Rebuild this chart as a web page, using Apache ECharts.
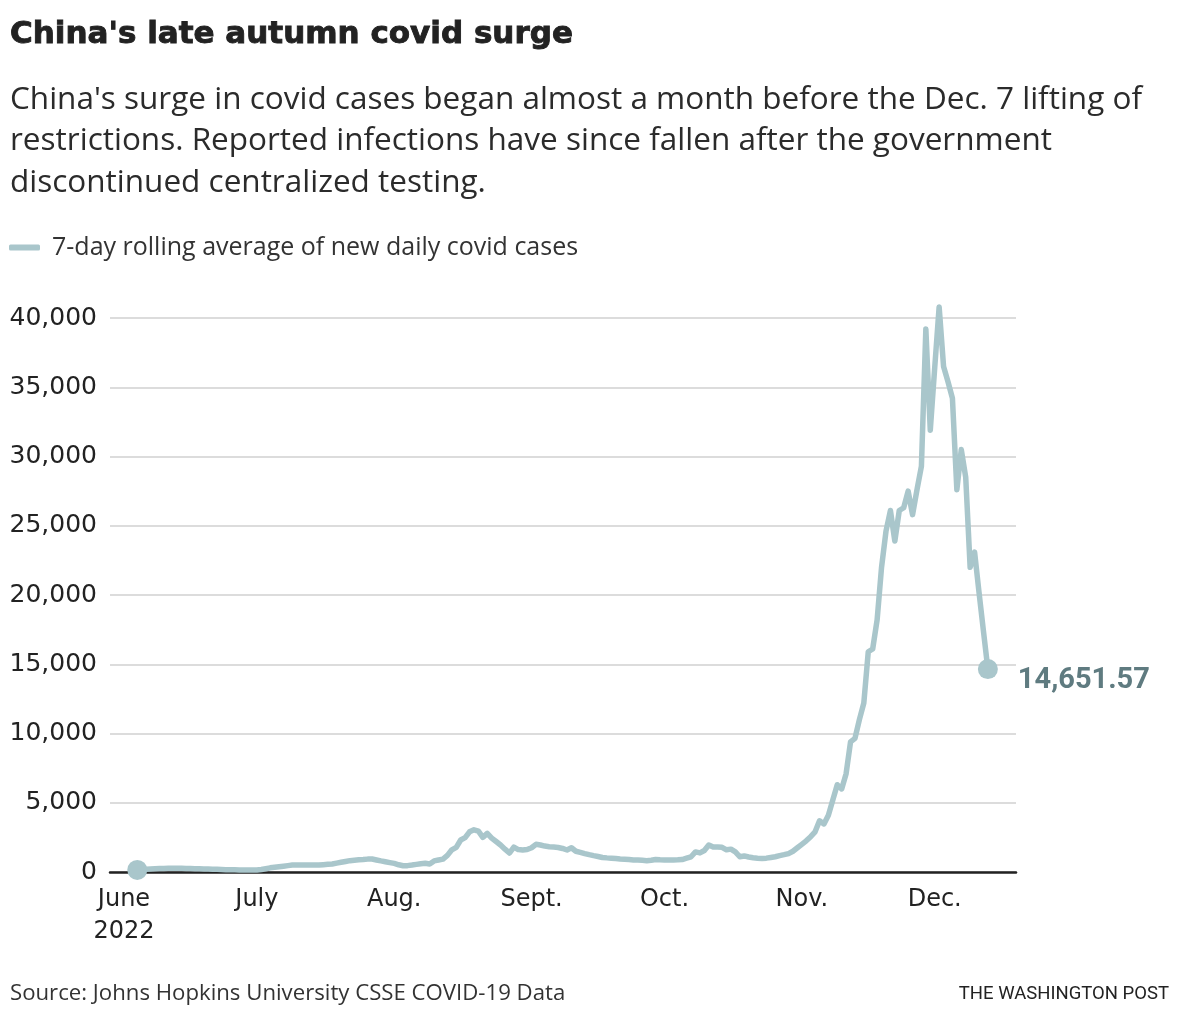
<!DOCTYPE html>
<html><head><meta charset="utf-8">
<script src="https://cdn.jsdelivr.net/npm/echarts@6/dist/echarts.min.js"></script>
<style>html,body{margin:0;padding:0;background:#fff}#c{width:1180px;height:1020px}</style>
</head><body><div id="c"></div>
<script>
const titleText = "China's late autumn covid surge";
const subtitleLines = [
  "China's surge in covid cases began almost a month before the Dec. 7 lifting of",
  "restrictions. Reported infections have since fallen after the government",
  "discontinued centralized testing."
];
const seriesName = '7-day rolling average of new daily covid cases';
const sourceText = 'Source: Johns Hopkins University CSSE COVID-19 Data';
const creditText = 'THE WASHINGTON POST';

const originDate = '2022-06-01';
const startDate = '2022-06-04';
const juneValues = [150,190,200,220,240,250,260,270,270,270,265,260,250,240,230,220,210,200,190,180,170,160,155,150,145,140,140];
const julyValues = [140,180,240,300,340,380,420,460,500,500,500,500,500,500,500,530,560,580,640,700,760,820,850,880,900,930,940,870,800,740,680];
const augValues = [620,520,450,460,500,550,600,630,580,800,870,930,1200,1600,1780,2310,2480,2900,3050,2950,2500,2790,2450,2200,1950,1650,1370,1800,1620,1590,1620];
const septValues = [1750,2000,1950,1870,1830,1800,1770,1700,1590,1750,1500,1420,1330,1250,1180,1120,1050,1020,1000,970,940,920,900,870,860,840,820,850,900,880];
const octValues = [870,870,870,880,900,1000,1100,1450,1380,1550,1950,1800,1800,1780,1600,1650,1450,1100,1160,1080,1030,1000,980,1000,1050,1100,1180,1250,1330,1500,1750];
const novValues = [2000,2250,2550,2900,3700,3470,4100,5200,6300,6000,7100,9400,9650,11000,12200,15900,16100,18200,22000,24600,26100,23900,26100,26300,27500,25800,27600,29300,39200,31900];
const decValues = [36400,40800,36500,35400,34200,27600,30500,28500,22000,23100,20200,17400,14651.57];

const tickDates = ['2022-06-01','2022-07-01','2022-08-01','2022-09-01','2022-10-01','2022-11-01','2022-12-01'];
const tickLabels = ['June\n2022','July','Aug.','Sept.','Oct.','Nov.','Dec.'];

function dayIndex(s){const p=s.split('-').map(Number);const o=originDate.split('-').map(Number);
  return Math.round((Date.UTC(p[0],p[1]-1,p[2])-Date.UTC(o[0],o[1]-1,o[2]))/86400000);}
const values = [].concat(juneValues,julyValues,augValues,septValues,octValues,novValues,decValues);
const start = dayIndex(startDate);
const lineData = values.map((v,k)=>[start+k, v]);
const tickPos = tickDates.map(dayIndex);
const last = lineData.length-1;
const fmt = v => v.toLocaleString('en-US');
const OS = '"Open Sans", Roboto, sans-serif';
const DV = '"DejaVu Sans", sans-serif';
const RB = 'Roboto, sans-serif';
const lineColor = '#a9c6cb';

const chart = echarts.init(document.getElementById('c'), null, {renderer:'canvas'});
chart.setOption({
  animation:false,
  textStyle:{fontFamily:OS},
  graphic:[
    {type:'text', style:{x:10,y:35,text:titleText,font:'bold 31px '+DV,fill:'#222',stroke:'#222',lineWidth:0.9,align:'left',verticalAlign:'middle'}},
    ...subtitleLines.map((t,i)=>({type:'text', style:{x:10,y:100+i*41.5,text:t,font:'31.5px '+OS,fill:'#2b2b2b',align:'left',verticalAlign:'middle'}})),
    {type:'text', style:{x:10,y:994,text:sourceText,font:'22.2px '+OS,fill:'#333',align:'left',verticalAlign:'middle'}},
    {type:'text', style:{x:1169,y:994,text:creditText,font:'18.5px '+RB,fill:'#222',align:'right',verticalAlign:'middle'}}
  ],
  legend:{data:[seriesName], left:4, top:230, icon:'roundRect', itemWidth:31, itemHeight:6,
    textStyle:{fontSize:25,color:'#333',fontFamily:OS,padding:[0,0,0,7]}},
  grid:{left:110,right:164,top:318,bottom:148,containLabel:false},
  xAxis:{type:'value', min:-3.16, max:201.35,
    axisLine:{show:true,onZero:true,lineStyle:{color:'#222',width:2.5}},
    axisTick:{show:false}, splitLine:{show:false},
    axisLabel:{customValues:tickPos, fontSize:24, lineHeight:32, color:'#222', margin:12, fontFamily:DV,
      formatter:v=>{const i=tickPos.indexOf(Math.round(v));return i>=0?tickLabels[i]:'';}}},
  yAxis:{type:'value', min:0, max:40000, interval:5000,
    axisLine:{show:false}, axisTick:{show:false},
    splitLine:{lineStyle:{color:'#dcdcdc',width:2}},
    axisLabel:{fontSize:25,color:'#222',margin:13,fontFamily:DV,formatter:v=>fmt(v)}},
  series:[
    {name:seriesName,type:'line',data:lineData,symbol:'none',clip:false,color:lineColor,
      lineStyle:{color:lineColor,width:5.5,join:'round',cap:'round'},z:3},
    {name:'ends',type:'scatter',clip:false,symbolSize:20,itemStyle:{color:lineColor,opacity:1},z:4,
      data:[{value:lineData[0]},{value:lineData[last],label:{show:true,position:'right',distance:20,offset:[0,12],
        formatter:p=>p.value[1].toLocaleString('en-US',{minimumFractionDigits:2,maximumFractionDigits:2}),
        fontSize:29,fontWeight:'bold',color:'#5f7b80',fontFamily:RB}}]}
  ]
});
</script></body></html>
